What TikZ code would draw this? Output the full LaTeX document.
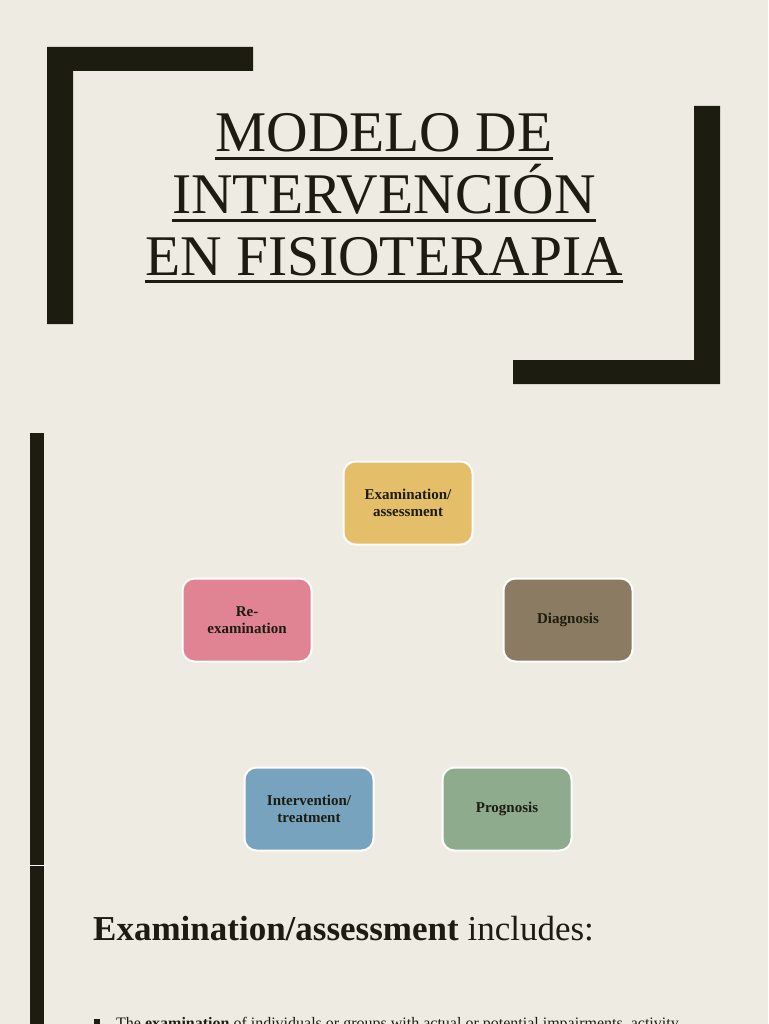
\documentclass[tikz,border=0pt]{standalone}
\usepackage{fontspec}
\setmainfont{Liberation Serif}
\definecolor{paper}{HTML}{EEEBE3}
\definecolor{ink}{HTML}{1C1C10}
\definecolor{examfill}{HTML}{E4BE69}
\definecolor{reexfill}{HTML}{E08393}
\definecolor{diagfill}{HTML}{8B7B62}
\definecolor{intvfill}{HTML}{77A3BF}
\definecolor{progfill}{HTML}{8EAB8E}

\begin{document}
\begin{tikzpicture}[x=1pt,y=-1pt,
  stage/.style={draw=white!92!paper,line width=2pt,rounded corners=12pt,minimum width=129pt,minimum height=83pt,
    align=center,text=ink,font=\bfseries\fontsize{15}{17}\selectfont},
  titleline/.style={anchor=base,text=ink,inner sep=0pt,font=\fontsize{57.5}{61.5}\selectfont}]
  \useasboundingbox (0,0) rectangle (768,1024);
  \clip (0,0) rectangle (768,1024);
  \fill [paper] (0,0) rectangle (768,1024);

  % frame corners of the title
  \fill [ink] (47,47) -- (253,47) -- (253,71) -- (73,71) -- (73,324) -- (47,324) -- cycle;
  \fill [ink] (720,106) -- (720,384) -- (513,384) -- (513,360) -- (694,360) -- (694,106) -- cycle;

  \node [titleline] (title1) at (384,152) {MODELO DE};
  \node [titleline] (title2) at (384,214) {INTERVENCIÓN};
  \node [titleline] (title3) at (384,275) {EN FISIOTERAPIA};
  \foreach \t in {title1,title2,title3}
    \fill [ink] ([yshift=-5pt]\t.base west) rectangle ([yshift=-7.6pt]\t.base east);

  % side bar of the second slide
  \fill [ink] (30,433) rectangle (44,1024);
  \draw [white!70!paper,line width=1pt] (28,865) -- (46,865);

  \node [stage,fill=examfill] (exam) at (408,503) {Examination/\\assessment};
  \node [stage,fill=reexfill] (reexam) at (247,620) {Re-\\examination};
  \node [stage,fill=diagfill] (diag) at (568,620) {Diagnosis};
  \node [stage,fill=intvfill] (interv) at (309,809) {Intervention/\\treatment};
  \node [stage,fill=progfill] (progn) at (507,809) {Prognosis};

  \node [anchor=base west,inner sep=0pt,text=ink,font=\fontsize{35}{40}\selectfont] (heading) at (93,940)
    {\textbf{Examination/assessment} includes:};

  \fill [ink] (94,1019) rectangle (100,1025);
  \node [anchor=base west,inner sep=0pt,text=ink,font=\fontsize{16}{19}\selectfont] (bullet1) at (116,1028)
    {The \textbf{examination} of individuals or groups with actual or potential impairments, activity};
\end{tikzpicture}
\end{document}
